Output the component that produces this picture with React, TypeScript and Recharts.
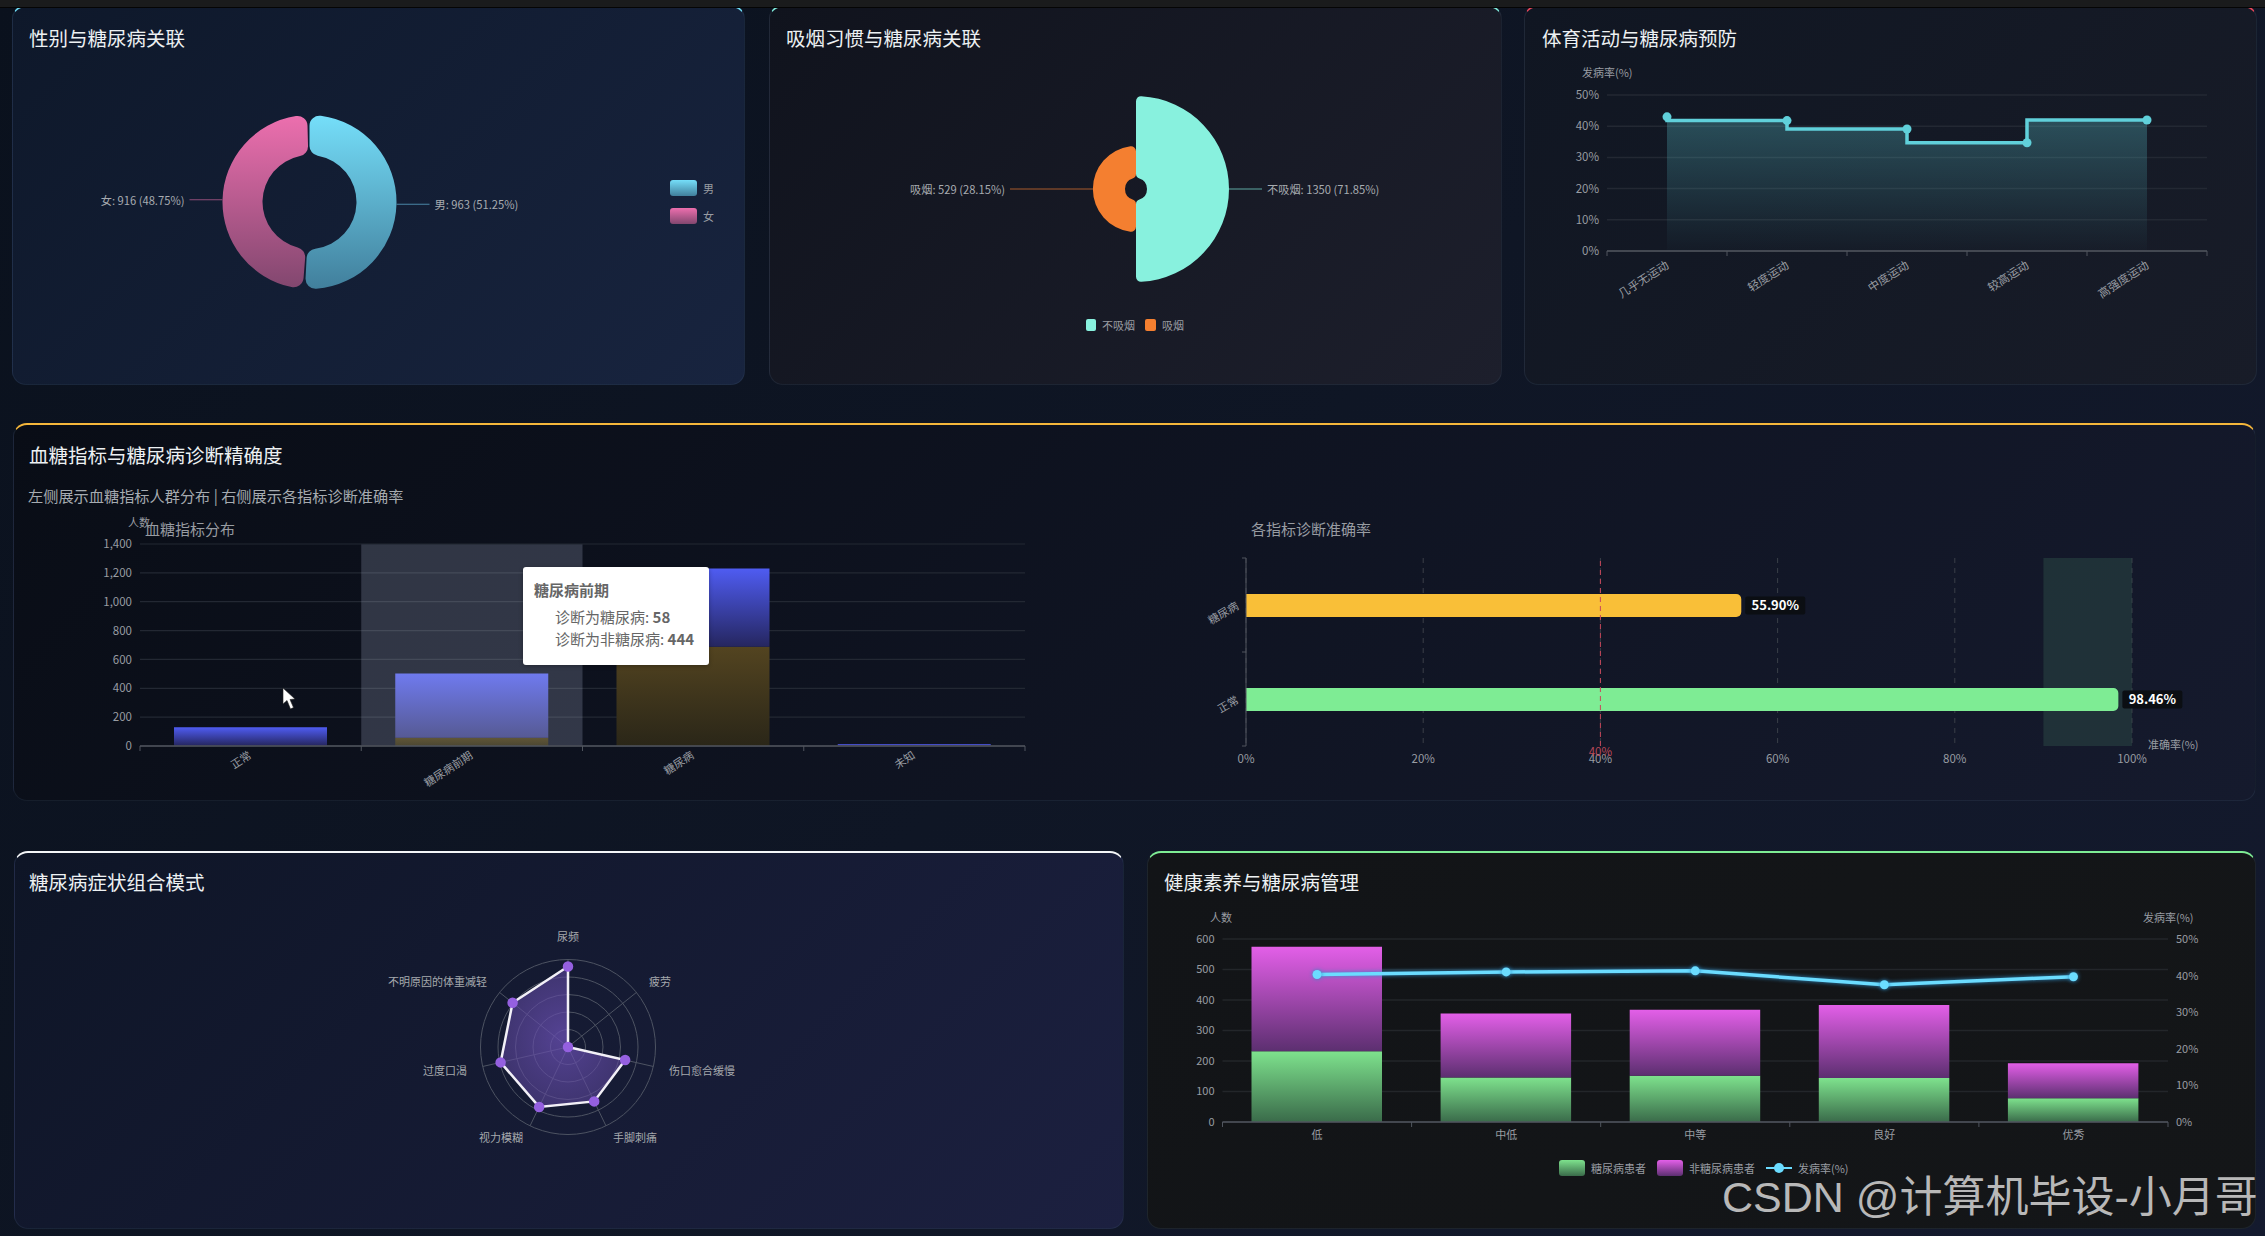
import React from "react";
import {
  Area,
  AreaChart,
  Bar,
  BarChart,
  CartesianGrid,
  Cell,
  ComposedChart,
  LabelList,
  Legend,
  Line,
  Pie,
  PieChart,
  PolarAngleAxis,
  PolarGrid,
  PolarRadiusAxis,
  Radar,
  RadarChart,
  ReferenceArea,
  ReferenceLine,
  Tooltip,
  XAxis,
  YAxis,
} from "recharts";

const genderNames = ["男", "女"];
const genderValues = [963, 916];

const smokeNames = ["不吸烟", "吸烟"];
const smokeValues = [1350, 529];

const activityLevels = ["几乎无运动", "轻度运动", "中度运动", "较高运动", "高强度运动"];
const activityRates = [43, 41.8, 39.1, 34.7, 42];

const glucoseLevels = ["正常", "糖尿病前期", "糖尿病", "未知"];
const diagnosedYes = [2, 58, 688, 2];
const diagnosedNo = [128, 444, 543, 12];

const accuracyLevels = ["糖尿病", "正常"];
const accuracyRates = [55.9, 98.46];

const symptoms = ["尿频", "疲劳", "伤口愈合缓慢", "手脚刺痛", "视力模糊", "过度口渴", "不明原因的体重减轻"];
const symptomRates = [92, 0, 67, 69, 76, 79, 81];

const literacyLevels = ["低", "中低", "中等", "良好", "优秀"];
const literacyDiabetic = [232, 146, 152, 144, 78];
const literacyOther = [343, 210, 216, 240, 115];
const literacyRates = [40.3, 41, 41.3, 37.5, 39.7];

const genderData = genderNames.map((name, i) => ({ name, value: genderValues[i] }));
const smokeData = smokeNames.map((name, i) => ({ name, value: smokeValues[i] }));
const activityData = activityLevels.map((name, i) => ({ name, rate: activityRates[i] }));
const glucoseData = glucoseLevels.map((name, i) => ({ name, yes: diagnosedYes[i], no: diagnosedNo[i] }));
const accuracyData = accuracyLevels.map((name, i) => ({ name, rate: accuracyRates[i] }));
const symptomData = symptoms.map((name, i) => ({ name, rate: symptomRates[i] }));
const literacyData = literacyLevels.map((name, i) => ({
  name,
  diabetic: literacyDiabetic[i],
  other: literacyOther[i],
  rate: literacyRates[i],
}));

const FONT = '"Noto Sans CJK SC", "Noto Sans", sans-serif';
const AXIS_TEXT = "#989ca2";
const GRID = "#232833";
const AXIS_LINE = "#50555e";
const NO_MARGIN = { top: 0, right: 0, bottom: 0, left: 0 };

function Txt({ x, y, size = 11, color = AXIS_TEXT, weight = 400, children }: any) {
  return (
    <div
      style={{
        position: "absolute",
        left: x,
        top: y,
        transform: `translateY(calc(-50% - ${size * 0.09}px))`,
        fontSize: size,
        color,
        fontWeight: weight,
        whiteSpace: "nowrap",
        lineHeight: 1,
      }}
    >
      {children}
    </div>
  );
}

function Card({ x, y, w, h, bg, accent, title, titleX, titleY }: any) {
  return (
    <>
      <div
        style={{
          position: "absolute",
          left: x,
          top: y,
          width: w,
          height: h,
          boxSizing: "border-box",
          borderRadius: 14,
          background: bg,
          border: "1px solid rgba(70,90,120,0.22)",
          borderTop: `2px solid ${accent}`,
        }}
      />
      <Txt x={titleX} y={titleY} size={19.5} color="#edf1f3">
        {title}
      </Txt>
    </>
  );
}

// axis ticks sit on the band edges, the labels on the band centres
function BandTick({ x, y, index, payload, band, count, rotate, dx = 0, dy = 12, size = 11 }: any) {
  const left = x - band / 2;
  return (
    <g>
      <line x1={left} x2={left} y1={y} y2={y + 5} stroke={AXIS_LINE} />
      {index === count - 1 && <line x1={left + band} x2={left + band} y1={y} y2={y + 5} stroke={AXIS_LINE} />}
      <text
        transform={`translate(${x + dx},${y + dy}) rotate(${rotate})`}
        textAnchor={rotate ? "end" : "middle"}
        dominantBaseline="central"
        fill={AXIS_TEXT}
        fontSize={size}
      >
        {payload.value}
      </text>
    </g>
  );
}

function SideTick({ x, y, index, payload, band, count }: any) {
  const top = y - band / 2;
  return (
    <g>
      <line x1={x - 4} x2={x} y1={top} y2={top} stroke={AXIS_LINE} />
      {index === count - 1 && <line x1={x - 4} x2={x} y1={top + band} y2={top + band} stroke={AXIS_LINE} />}
      <text
        transform={`translate(${x - 9},${y - 1}) rotate(-30)`}
        textAnchor="end"
        dominantBaseline="central"
        fill={AXIS_TEXT}
        fontSize={11}
      >
        {payload.value}
      </text>
    </g>
  );
}

function SpokeTick({ x, y, index, payload, textAnchor }: any) {
  const lift = Math.sin(Math.PI / 2 - (index * 2 * Math.PI) / symptoms.length);
  const shift = index === 0 ? 7.5 : 4 * lift * lift;
  return (
    <text x={x} y={y - shift} textAnchor={textAnchor} dominantBaseline="central" fill="#a5a9ad" fontSize={11}>
      {payload.value}
    </text>
  );
}

function sliceLabel(total: number, reach: number, colorRight: string, colorLeft: string) {
  return (p: any) => {
    const rad = (p.midAngle * Math.PI) / 180;
    const side = Math.cos(rad) >= 0 ? 1 : -1;
    const sx = p.cx + p.outerRadius * Math.cos(rad);
    const sy = p.cy - p.outerRadius * Math.sin(rad);
    const ex = p.cx + side * reach;
    return (
      <g>
        <path d={`M${sx},${sy}L${ex},${sy}`} stroke={side > 0 ? colorRight : colorLeft} strokeWidth={1.2} fill="none" />
        <text
          x={ex + side * 5}
          y={sy}
          textAnchor={side > 0 ? "start" : "end"}
          dominantBaseline="central"
          fill="#a7abb0"
          fontSize={11.2}
        >
          {`${p.name}: ${p.value} (${((p.value / total) * 100).toFixed(2)}%)`}
        </text>
      </g>
    );
  };
}

function Swatch({ w, h, bg, r = 3 }: any) {
  return <span style={{ display: "inline-block", width: w, height: h, background: bg, borderRadius: r }} />;
}

function GlucoseTooltip({ active, label, payload }: any) {
  if (!active || !payload?.length) return null;
  return (
    <div
      style={{
        width: 186,
        height: 98,
        boxSizing: "border-box",
        background: "#fff",
        borderRadius: 3,
        padding: "12px 11px",
        fontFamily: FONT,
        color: "#666",
        fontSize: 15,
        lineHeight: "22px",
        boxShadow: "0 1px 4px rgba(0,0,0,0.3)",
      }}
    >
      <div style={{ fontWeight: 700, marginBottom: 5 }}>{label}</div>
      {payload.map((p: any) => (
        <div key={p.dataKey} style={{ paddingLeft: 21, whiteSpace: "nowrap" }}>
          {p.name}: <b>{p.value}</b>
        </div>
      ))}
    </div>
  );
}

function AccuracyLabel({ x, y, width, height, value }: any) {
  const left = x + width + 4;
  return (
    <g>
      <rect x={left} y={y + height / 2 - 9} width={60} height={18} rx={2} fill="#0b0e13" />
      <text
        x={left + 30}
        y={y + height / 2 - 1}
        textAnchor="middle"
        dominantBaseline="central"
        fill="#fff"
        fontWeight={700}
        fontSize={13}
      >
        {`${value.toFixed(2)}%`}
      </text>
    </g>
  );
}

const maxSmoke = Math.max(...smokeValues);
const roseRadius = (v: number) => 11 + ((93 - 11) * v) / maxSmoke;
const smokeTotal = smokeValues[0] + smokeValues[1];
const genderTotal = genderValues[0] + genderValues[1];

export default function App() {
  return (
    <div
      style={{
        position: "absolute",
        left: 0,
        top: 0,
        width: 2265,
        height: 1236,
        overflow: "hidden",
        fontFamily: FONT,
        background: "linear-gradient(135deg,#0a111d 0%,#0f1625 50%,#141a2e 100%)",
      }}
    >
      <Card x={12} y={5} w={733} h={380} bg="linear-gradient(135deg,#0e182a,#18243f)" accent="#6fdcf5"
        title="性别与糖尿病关联" titleX={29} titleY={40} />
      <Card x={769} y={5} w={733} h={380} bg="linear-gradient(135deg,#10131d,#1d1f2c)" accent="#7fe9d8"
        title="吸烟习惯与糖尿病关联" titleX={786} titleY={40} />
      <Card x={1524} y={5} w={733} h={380} bg="linear-gradient(135deg,#101622,#181c28)" accent="#e8465a"
        title="体育活动与糖尿病预防" titleX={1542} titleY={40} />
      <Card x={13} y={423} w={2243} h={378} bg="linear-gradient(135deg,#090d16,#151a2d)" accent="#f5b73b"
        title="血糖指标与糖尿病诊断精确度" titleX={29} titleY={457} />
      <Card x={14} y={851} w={1110} h={378} bg="linear-gradient(135deg,#0e1526,#1c2040)" accent="#f4f6f8"
        title="糖尿病症状组合模式" titleX={29} titleY={884} />
      <Card x={1147} y={851} w={1109} h={378} bg="linear-gradient(135deg,#121417,#141618)" accent="#7eec94"
        title="健康素养与糖尿病管理" titleX={1164} titleY={884} />

      <div style={{ position: "absolute", left: 0, top: 0, width: 2265, height: 7, background: "#1a1b1c", borderBottom: "1px solid #050505" }} />

      {/* gender donut */}
      <div style={{ position: "absolute", left: 12, top: 8 }}>
        <PieChart width={733} height={377} margin={NO_MARGIN}>
          <defs>
            <linearGradient id="maleFill" x1="0" y1="0" x2="0" y2="1">
              <stop offset="0%" stopColor="#75def9" />
              <stop offset="100%" stopColor="#417f9c" />
            </linearGradient>
            <linearGradient id="femaleFill" x1="0" y1="0" x2="0" y2="1">
              <stop offset="0%" stopColor="#ec6fae" />
              <stop offset="100%" stopColor="#82476f" />
            </linearGradient>
          </defs>
          <Pie
            data={genderData}
            dataKey="value"
            nameKey="name"
            cx={297.5}
            cy={194}
            outerRadius={87}
            innerRadius={47}
            startAngle={90}
            endAngle={-270}
            paddingAngle={1.5}
            cornerRadius={10}
            stroke="none"
            isAnimationActive={false}
            labelLine={false}
            label={sliceLabel(genderTotal, 120, "#4a86a6", "#8f4d78")}
          >
            <Cell fill="url(#maleFill)" />
            <Cell fill="url(#femaleFill)" />
          </Pie>
          <Legend
            layout="vertical"
            verticalAlign="middle"
            align="center"
            wrapperStyle={{ left: 658, top: 172, width: 60, height: 50 }}
            content={() => (
              <div style={{ display: "flex", flexDirection: "column", gap: 12 }}>
                {genderNames.map((n, i) => (
                  <div key={n} style={{ display: "flex", alignItems: "center", gap: 6, height: 16, color: AXIS_TEXT, fontSize: 11 }}>
                    <Swatch w={27} h={16} bg={i === 0 ? "linear-gradient(#75def9,#417f9c)" : "linear-gradient(#ec6fae,#82476f)"} />
                    {n}
                  </div>
                ))}
              </div>
            )}
          />
        </PieChart>
      </div>

      {/* smoking rose, both halves get a radius from their own value */}
      <div style={{ position: "absolute", left: 769, top: 8 }}>
        <PieChart width={733} height={377} margin={NO_MARGIN}>
          <Pie
            data={[smokeData[1]]}
            dataKey="value"
            nameKey="name"
            cx={367}
            cy={181}
            innerRadius={11}
            outerRadius={roseRadius(smokeValues[1])}
            startAngle={270}
            endAngle={90}
            cornerRadius={5}
            stroke="none"
            fill="#f47f30"
            isAnimationActive={false}
            labelLine={false}
            label={sliceLabel(smokeTotal, 126, "#5ea8a2", "#a85a2c")}
          />
          <Pie
            data={[smokeData[0]]}
            dataKey="value"
            nameKey="name"
            cx={367}
            cy={181}
            innerRadius={11}
            outerRadius={roseRadius(smokeValues[0])}
            startAngle={90}
            endAngle={-90}
            cornerRadius={5}
            stroke="none"
            fill="#88f1de"
            isAnimationActive={false}
            labelLine={false}
            label={sliceLabel(smokeTotal, 126, "#5ea8a2", "#a85a2c")}
          />
          <Legend
            verticalAlign="middle"
            align="center"
            wrapperStyle={{ left: 317, top: 309, width: 110, height: 14 }}
            content={() => (
              <div style={{ display: "flex", alignItems: "center", gap: 6, color: AXIS_TEXT, fontSize: 11, whiteSpace: "nowrap" }}>
                <Swatch w={10} h={12} bg="#88f1de" r={2} />
                <span style={{ marginRight: 4 }}>{smokeNames[0]}</span>
                <Swatch w={11} h={12} bg="#f47f30" r={2} />
                <span>{smokeNames[1]}</span>
              </div>
            )}
          />
        </PieChart>
      </div>

      {/* activity step area */}
      <div style={{ position: "absolute", left: 1524, top: 8 }}>
        <AreaChart width={733} height={377} data={activityData} margin={{ top: 87, right: 50, bottom: 104, left: 0 }}>
          <defs>
            <linearGradient id="activityFill" x1="0" y1="0" x2="0" y2="1">
              <stop offset="0%" stopColor="#60d0da" stopOpacity={0.5} />
              <stop offset="100%" stopColor="#60d0da" stopOpacity={0.02} />
            </linearGradient>
          </defs>
          <CartesianGrid vertical={false} stroke={GRID} strokeWidth={1.5} />
          <XAxis
            dataKey="name"
            scale="band"
            interval={0}
            height={30}
            tickLine={false}
            tickSize={0}
            tickMargin={0}
            axisLine={{ stroke: AXIS_LINE, strokeWidth: 1.5 }}
            tick={(p: any) => <BandTick {...p} band={120} count={5} rotate={-33} dx={0} dy={12} size={11.5} />}
          />
          <YAxis
            width={83}
            domain={[0, 50]}
            ticks={[0, 10, 20, 30, 40, 50]}
            tickFormatter={(v) => `${v}%`}
            axisLine={false}
            tickLine={false}
            tick={{ fill: AXIS_TEXT, fontSize: 11.5 }}
          />
          <Area
            type="stepBefore"
            dataKey="rate"
            stroke="#60d0da"
            strokeWidth={3.5}
            fill="url(#activityFill)"
            dot={{ r: 4.5, fill: "#60d0da", stroke: "#60d0da", strokeWidth: 0, fillOpacity: 1 }}
            isAnimationActive={false}
          />
        </AreaChart>
      </div>
      <Txt x={1582} y={73}>发病率(%)</Txt>

      {/* glucose distribution */}
      <Txt x={28} y={497} size={15.2} color="#a6abb0">左侧展示血糖指标人群分布 | 右侧展示各指标诊断准确率</Txt>
      <div style={{ position: "absolute", left: 30, top: 510 }}>
        <BarChart width={1050} height={280} data={glucoseData} margin={{ top: 34, right: 55, bottom: 14, left: 0 }}>
          <defs>
            <linearGradient id="noFill" x1="0" y1="0" x2="0" y2="1">
              <stop offset="0%" stopColor="#4f5cf2" />
              <stop offset="100%" stopColor="#25265f" />
            </linearGradient>
            <linearGradient id="noFillActive" x1="0" y1="0" x2="0" y2="1">
              <stop offset="0%" stopColor="#6f7aee" />
              <stop offset="100%" stopColor="#565a94" />
            </linearGradient>
            <linearGradient id="yesFill" x1="0" y1="0" x2="0" y2="1">
              <stop offset="0%" stopColor="#534420" />
              <stop offset="100%" stopColor="#2a2618" />
            </linearGradient>
            <linearGradient id="yesFillActive" x1="0" y1="0" x2="0" y2="1">
              <stop offset="0%" stopColor="#605636" />
              <stop offset="100%" stopColor="#4c4733" />
            </linearGradient>
          </defs>
          <CartesianGrid vertical={false} stroke={GRID} strokeWidth={1.2} />
          <XAxis
            dataKey="name"
            interval={0}
            height={30}
            tickLine={false}
            tickSize={0}
            tickMargin={0}
            axisLine={{ stroke: AXIS_LINE, strokeWidth: 1.5 }}
            tick={(p: any) => <BandTick {...p} band={221.25} count={4} rotate={-33} dx={-1} dy={7} />}
          />
          <YAxis
            width={110}
            domain={[0, 1400]}
            ticks={[0, 200, 400, 600, 800, 1000, 1200, 1400]}
            tickFormatter={(v) => v.toLocaleString("en-US")}
            axisLine={false}
            tickLine={false}
            tick={{ fill: AXIS_TEXT, fontSize: 11.5 }}
          />
          <Tooltip
            defaultIndex={1}
            position={{ x: 493, y: 57 }}
            cursor={{ fill: "#c8d2f0", fillOpacity: 0.2 }}
            content={<GlucoseTooltip />}
            isAnimationActive={false}
          />
          <Bar dataKey="yes" name="诊断为糖尿病" stackId="d" barSize={153} isAnimationActive={false} activeBar={false}>
            {glucoseLevels.map((n, i) => (
              <Cell key={n} fill={i === 1 ? "url(#yesFillActive)" : "url(#yesFill)"} />
            ))}
          </Bar>
          <Bar dataKey="no" name="诊断为非糖尿病" stackId="d" barSize={153} isAnimationActive={false} activeBar={false}>
            {glucoseLevels.map((n, i) => (
              <Cell key={n} fill={i === 1 ? "url(#noFillActive)" : "url(#noFill)"} />
            ))}
          </Bar>
        </BarChart>
      </div>
      <Txt x={128} y={523}>人数</Txt>
      <Txt x={145} y={530} size={15}>血糖指标分布</Txt>
      <svg style={{ position: "absolute", left: 282, top: 687 }} width={18} height={24}>
        <path d="M1,1 L1,17 L5,13.5 L8.5,22 L11.5,20.5 L8,12.5 L13,12 Z" fill="#fff" stroke="#222" strokeWidth={0.6} />
      </svg>

      {/* accuracy bars */}
      <div style={{ position: "absolute", left: 1150, top: 510 }}>
        <BarChart
          layout="vertical"
          width={1090}
          height={280}
          data={accuracyData}
          margin={{ top: 48, right: 108, bottom: 19, left: 0 }}
        >
          <CartesianGrid horizontal={false} stroke="#3a3f48" strokeDasharray="5 5" />
          <XAxis
            type="number"
            domain={[0, 100]}
            ticks={[0, 20, 40, 60, 80, 100]}
            tickFormatter={(v) => `${v}%`}
            height={25}
            axisLine={false}
            tickLine={false}
            tickMargin={3}
            tick={{ fill: AXIS_TEXT, fontSize: 11.5 }}
          />
          <YAxis
            type="category"
            dataKey="name"
            width={96}
            interval={0}
            tickLine={false}
            tickSize={0}
            tickMargin={0}
            axisLine={{ stroke: AXIS_LINE }}
            tick={(p: any) => <SideTick {...p} band={94} count={2} />}
          />
          <ReferenceArea x1={90} x2={100} fill="#2f504a" fillOpacity={0.45} stroke="none" />
          <Bar dataKey="rate" barSize={23} radius={[0, 5, 5, 0]} isAnimationActive={false}>
            <Cell fill="#f9bf38" />
            <Cell fill="#7eec94" />
            <LabelList dataKey="rate" content={<AccuracyLabel />} />
          </Bar>
          <ReferenceLine
            x={40}
            stroke="#c9485b"
            strokeDasharray="5 4"
            label={{ value: "40%", position: "bottom", fill: "#b84757", fontSize: 11.5, offset: 2 }}
          />
        </BarChart>
      </div>
      <Txt x={1251} y={530} size={15}>各指标诊断准确率</Txt>
      <Txt x={2148} y={745}>准确率(%)</Txt>

      {/* symptom radar */}
      <div style={{ position: "absolute", left: 14, top: 851 }}>
        <RadarChart width={1110} height={377} data={symptomData} cx={554} cy={196} outerRadius={87.5}>
          <defs>
            <radialGradient id="symptomFill" cx="50%" cy="50%" r="60%">
              <stop offset="0%" stopColor="#6a50b4" stopOpacity={0.75} />
              <stop offset="100%" stopColor="#5a4596" stopOpacity={0.55} />
            </radialGradient>
          </defs>
          <PolarGrid gridType="circle" stroke="#4d5362" />
          <PolarAngleAxis dataKey="name" tickSize={16} tickLine={false} axisLine={false} tick={<SpokeTick />} />
          <PolarRadiusAxis domain={[0, 100]} tickCount={6} tick={false} axisLine={false} />
          <Radar
            dataKey="rate"
            stroke="#f2f0f7"
            strokeWidth={2.5}
            fill="url(#symptomFill)"
            fillOpacity={1}
            dot={{ r: 4, fill: "#9560e0", stroke: "#9560e0", fillOpacity: 1 }}
            isAnimationActive={false}
          />
        </RadarChart>
      </div>

      {/* literacy stacked bars with rate line */}
      <div style={{ position: "absolute", left: 1147, top: 851 }}>
        <ComposedChart width={1109} height={377} data={literacyData} margin={{ top: 88, right: 0, bottom: 80, left: 0 }}>
          <defs>
            <linearGradient id="diabeticFill" x1="0" y1="0" x2="0" y2="1">
              <stop offset="0%" stopColor="#7ee28d" />
              <stop offset="100%" stopColor="#3a6b4a" />
            </linearGradient>
            <linearGradient id="otherFill" x1="0" y1="0" x2="0" y2="1">
              <stop offset="0%" stopColor="#e35fe8" />
              <stop offset="100%" stopColor="#5c2f70" />
            </linearGradient>
          </defs>
          <CartesianGrid vertical={false} stroke="#23262a" strokeWidth={1.5} yAxisId="count" />
          <XAxis
            dataKey="name"
            interval={0}
            height={26}
            tickLine={false}
            tickSize={0}
            tickMargin={0}
            axisLine={{ stroke: AXIS_LINE, strokeWidth: 1.5 }}
            tick={(p: any) => <BandTick {...p} band={189.1} count={5} rotate={0} />}
          />
          <YAxis
            yAxisId="count"
            width={75.5}
            domain={[0, 600]}
            ticks={[0, 100, 200, 300, 400, 500, 600]}
            axisLine={false}
            tickLine={false}
            tick={{ fill: AXIS_TEXT, fontSize: 11 }}
          />
          <YAxis
            yAxisId="rate"
            orientation="right"
            width={88}
            domain={[0, 50]}
            ticks={[0, 10, 20, 30, 40, 50]}
            tickFormatter={(v) => `${v}%`}
            axisLine={false}
            tickLine={false}
            tick={{ fill: AXIS_TEXT, fontSize: 11 }}
          />
          <Bar yAxisId="count" dataKey="diabetic" stackId="l" barSize={130.5} fill="url(#diabeticFill)" isAnimationActive={false} />
          <Bar yAxisId="count" dataKey="other" stackId="l" barSize={130.5} fill="url(#otherFill)" isAnimationActive={false} />
          <Line
            yAxisId="rate"
            dataKey="rate"
            stroke="#6bdcff"
            strokeWidth={3.5}
            dot={{ r: 4.5, fill: "#6bdcff", stroke: "#6bdcff", strokeWidth: 0 }}
            style={{ filter: "drop-shadow(0 0 2px #2f8fc8)" }}
            isAnimationActive={false}
          />
          <Legend
            verticalAlign="middle"
            align="center"
            wrapperStyle={{ left: 412, top: 309, width: 300, height: 16 }}
            content={() => (
              <div style={{ display: "flex", alignItems: "center", color: AXIS_TEXT, fontSize: 11, whiteSpace: "nowrap" }}>
                <Swatch w={26} h={16} bg="linear-gradient(#7ee28d,#3a6b4a)" />
                <span style={{ margin: "0 11px 0 6px" }}>糖尿病患者</span>
                <Swatch w={26} h={16} bg="linear-gradient(#e35fe8,#5c2f70)" />
                <span style={{ margin: "0 11px 0 6px" }}>非糖尿病患者</span>
                <svg width={26} height={16}>
                  <line x1={0} x2={26} y1={8} y2={8} stroke="#6bdcff" strokeWidth={2} />
                  <circle cx={13} cy={8} r={5} fill="#6bdcff" />
                </svg>
                <span style={{ marginLeft: 6 }}>发病率(%)</span>
              </div>
            )}
          />
        </ComposedChart>
      </div>
      <Txt x={1210} y={918}>人数</Txt>
      <Txt x={2143} y={918}>发病率(%)</Txt>

      <Txt x={1722} y={1199} size={43} color="#b8b8b8">
        <span style={{ fontFamily: '"Liberation Sans", "Noto Sans CJK SC"' }}>CSDN @计算机毕设-小月哥</span>
      </Txt>
    </div>
  );
}
